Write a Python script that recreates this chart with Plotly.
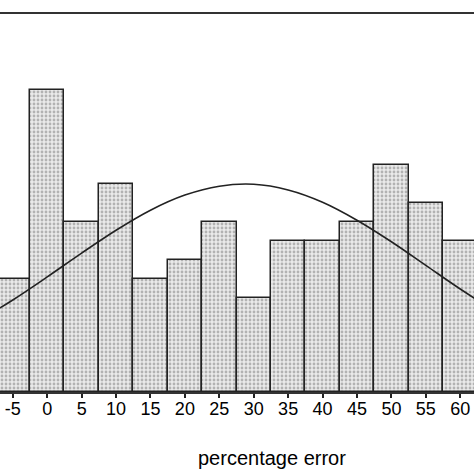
import plotly.graph_objects as go

# Histogram bins (bin centers, percentage error) and counts
bin_centers = [-5, 0, 5, 10, 15, 20, 25, 30, 35, 40, 45, 50, 55, 60]
counts = [6, 16, 9, 11, 6, 7, 9, 5, 8, 8, 9, 12, 10, 8]

# Fitted normal curve
curve_x = [-10, -5, 0, 5, 10, 15, 20, 25, 30, 35, 40, 45, 50, 55, 60, 65]
curve_y = [3.76, 4.87, 6.09, 7.35, 8.56, 9.62, 10.42, 10.89, 10.99, 10.69,
           10.04, 9.09, 7.95, 6.70, 5.45, 4.28]

tick_vals = [-5, 0, 5, 10, 15, 20, 25, 30, 35, 40, 45, 50, 55, 60]
tick_text = [str(v) for v in tick_vals]

fig = go.Figure()
fig.add_trace(go.Bar(
    x=bin_centers, y=counts, width=5,
    marker=dict(color="#e4e4e4",
                line=dict(color="#222222", width=1.5),
                pattern=dict(shape=".", fgcolor="#7a7a7a", bgcolor="#eaeaea",
                             size=4, solidity=0.4)),
    showlegend=False,
))
fig.add_trace(go.Scatter(
    x=curve_x, y=curve_y, mode="lines", line=dict(color="#222222", width=1.6, shape="spline"),
    showlegend=False,
))

fig.update_layout(
    width=474, height=474,
    margin=dict(l=0, r=0, t=14, b=82, autoexpand=False),
    plot_bgcolor="white", paper_bgcolor="white",
    bargap=0,
    font=dict(family="Liberation Sans, Arial, sans-serif", color="black"),
    xaxis=dict(range=[-6.86, 62.0], tickvals=tick_vals, ticktext=tick_text,
               automargin=False,
               showline=True, mirror=True, linecolor="#333333", linewidth=1.5,
               ticks="outside", ticklen=4, tickwidth=1.5, tickcolor="#222222",
               ticklabelstandoff=-4,
               showgrid=False, zeroline=False,
               tickfont=dict(size=18, color="black")),
    yaxis=dict(range=[0, 20], showgrid=False, zeroline=False, showticklabels=False,
               ticks="", showline=False, automargin=False),
    annotations=[dict(text="percentage error", x=272/474, y=-(458-392)/378,
                      xref="paper", yref="paper", showarrow=False,
                      xanchor="center", yanchor="middle",
                      font=dict(size=20, color="black"))],
)

fig.write_html("out.html", config={"displayModeBar": False},
               post_script="document.body.style.margin='0';document.body.style.overflow='hidden';")
